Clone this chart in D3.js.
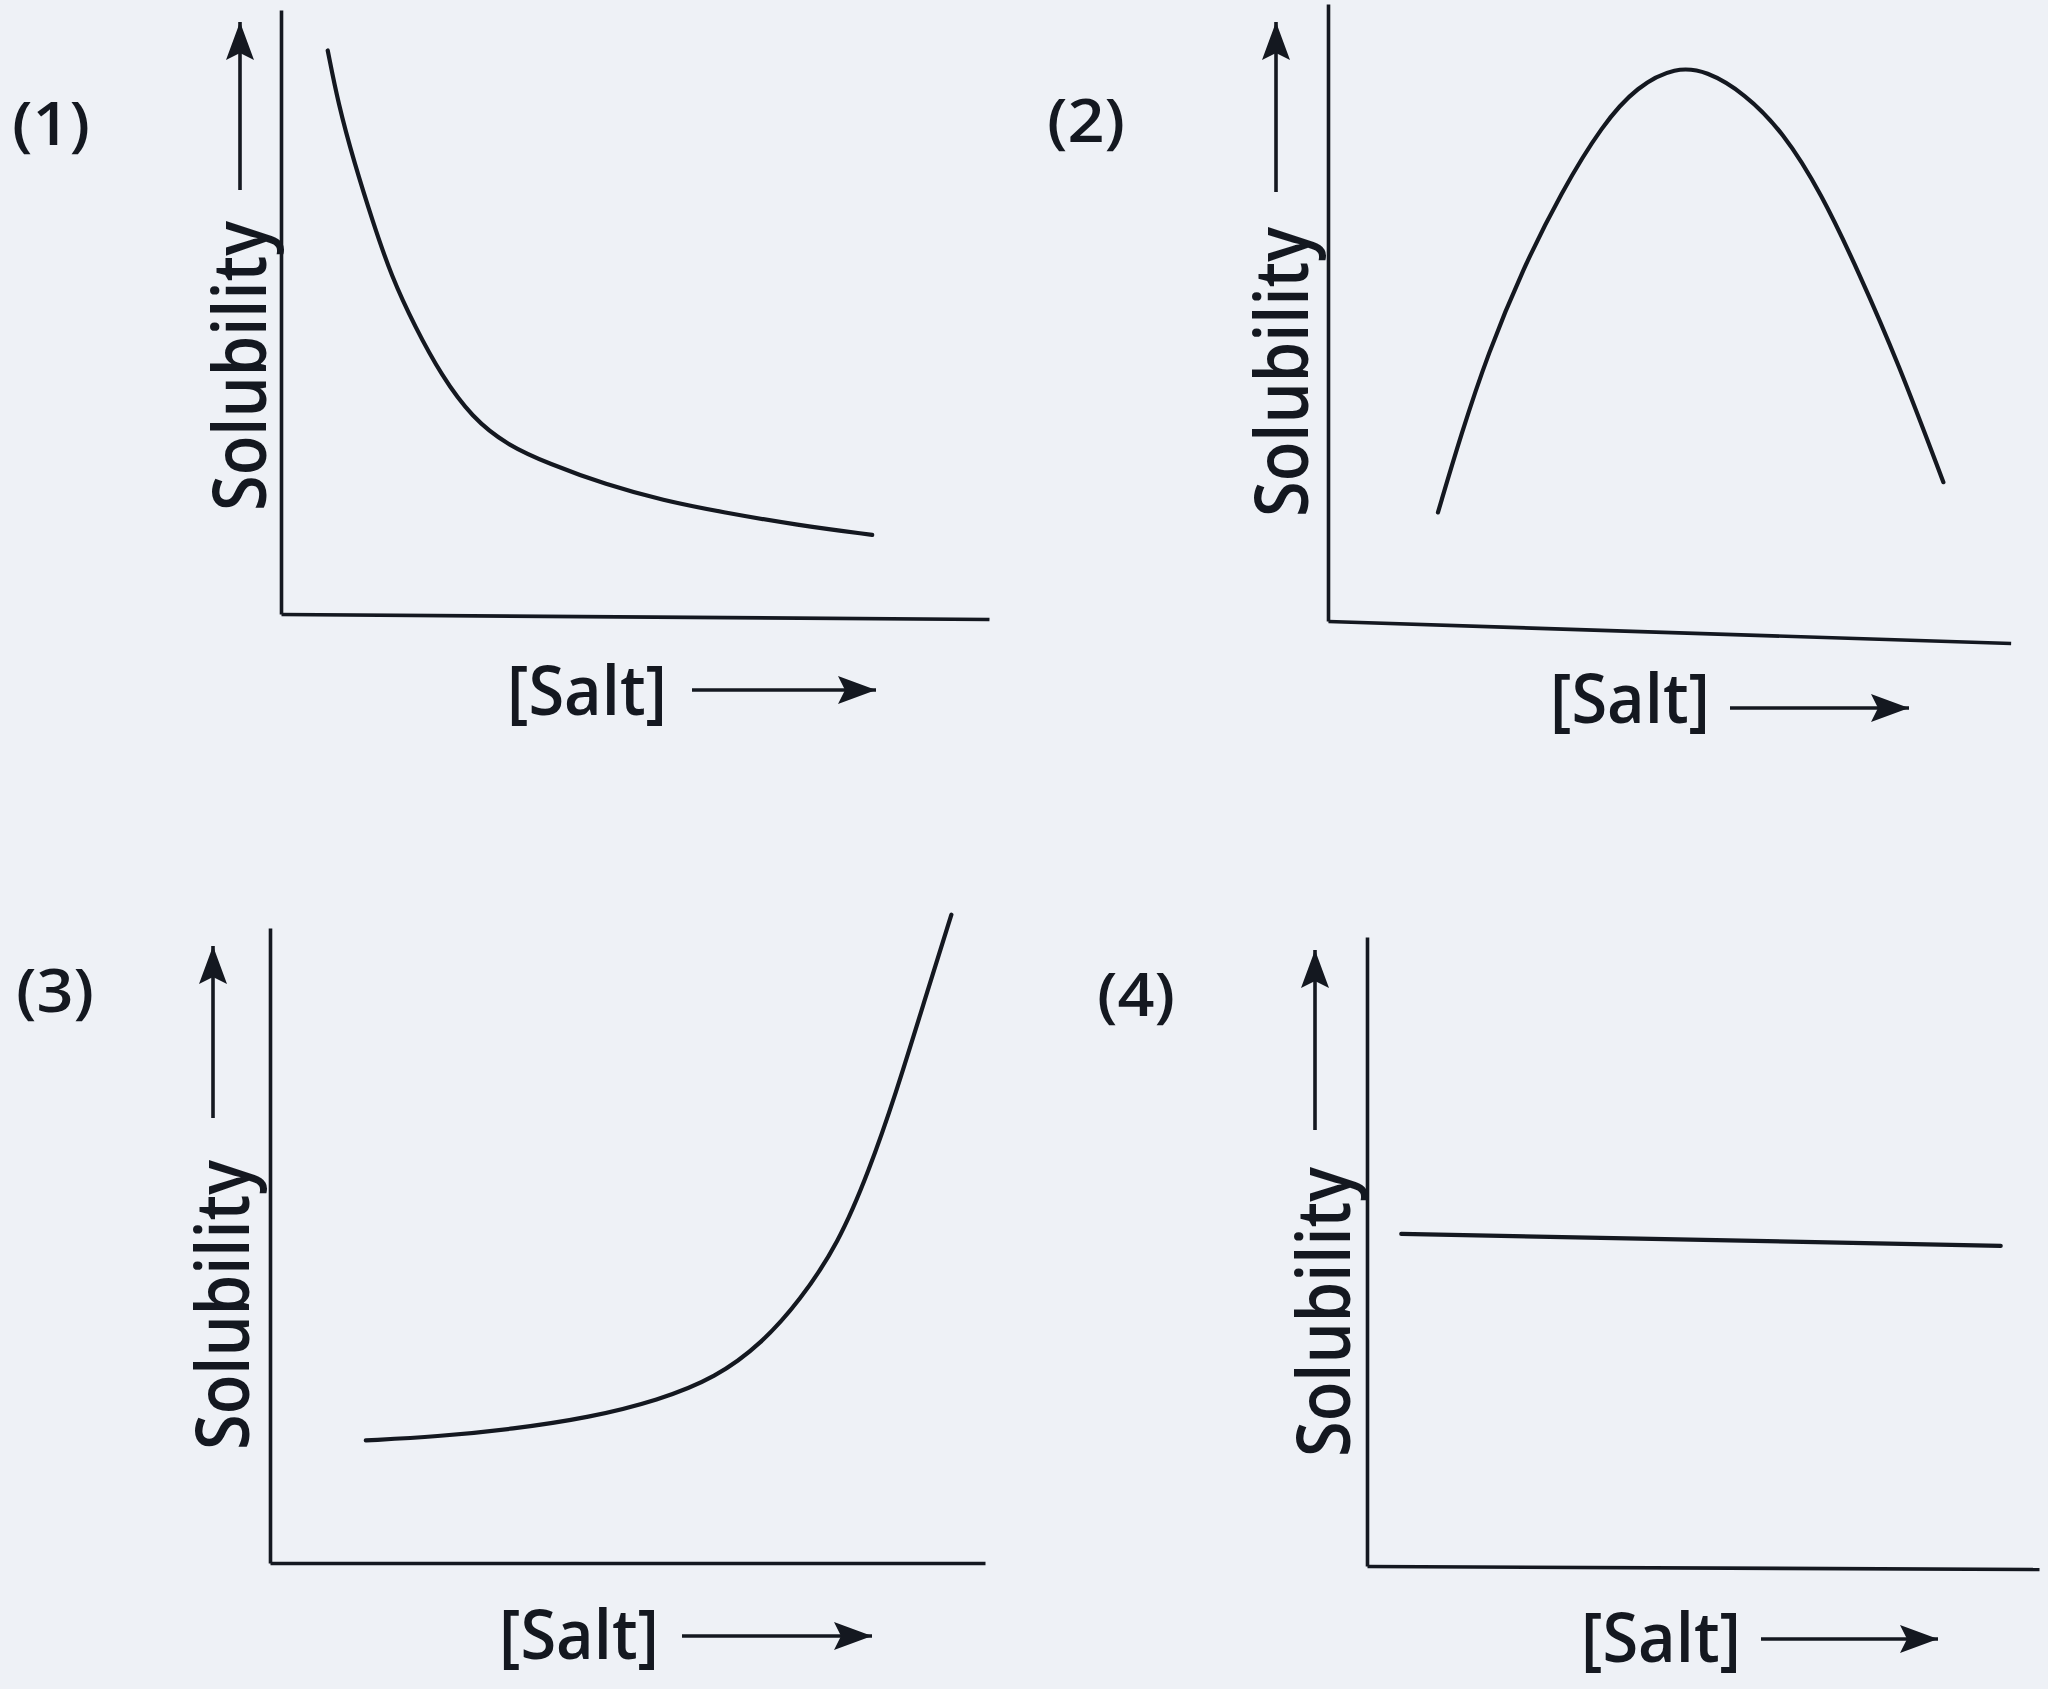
<!DOCTYPE html>
<html>
<head>
<meta charset="utf-8">
<script src="https://cdn.jsdelivr.net/npm/d3@7"></script>
<style>
  html, body { margin: 0; padding: 0; background: #eef1f6; }
  svg { display: block; }
  .lbl { font-family: "Open Sans", "DejaVu Sans", sans-serif; fill: #141820; font-weight: 600; }
</style>
</head>
<body>
<script>
// four sketch graphs: solubility vs salt concentration (arbitrary units 0-10)
const panelLabels = ["(1)", "(2)", "(3)", "(4)"];
const xTitle = "[Salt]";
const yTitle = "Solubility";

// (1) salting out - falls steeply then levels
const salt1 = [0.66, 0.81, 1.03, 1.30, 1.56, 1.89, 2.27, 2.70, 3.19, 3.78, 4.59, 5.40, 6.21, 7.30, 8.35];
const sol1  = [9.33, 8.44, 7.49, 6.48, 5.59, 4.76, 3.94, 3.25, 2.80, 2.49, 2.14, 1.88, 1.69, 1.47, 1.31];

// (2) salting in then salting out
const salt2 = [1.61, 1.95, 2.34, 2.85, 3.41, 4.02, 4.53, 5.09, 5.54, 6.10, 6.66, 7.22, 7.78, 8.34, 9.01];
const sol2  = [1.76, 3.03, 4.33, 5.70, 6.94, 8.05, 8.67, 8.98, 8.92, 8.55, 7.93, 6.94, 5.63, 4.21, 2.25];

// (3) rising
const salt3 = [1.34, 2.33, 3.40, 4.47, 5.43, 6.24, 6.88, 7.41, 7.95, 8.38, 8.75, 9.13, 9.53];
const sol3  = [1.93, 1.99, 2.11, 2.29, 2.56, 2.92, 3.46, 4.13, 5.03, 6.18, 7.38, 8.77, 10.21];

// (4) flat
const salt4 = [0.51, 9.43];
const sol4  = [5.28, 5.09];

const saltSeries = [salt1, salt2, salt3, salt4];
const solSeries = [sol1, sol2, sol3, sol4];

// layout of each panel (pixels)
const panels = [
  {x0: 281,  x1: 989,  y0: 614,  y1: 10,  tilt: 0.4,
   lab: [12, 145],   yt: [266, 366],   xt: [587, 715],   xa: [692, 876, 690],   ya: [240, 190, 22]},
  {x0: 1328, x1: 2011, y0: 621,  y1: 4,   tilt: 1.85,
   lab: [1047, 142], yt: [1308, 372],  xt: [1630, 723],  xa: [1730, 1909, 708], ya: [1276, 192, 22]},
  {x0: 270,  x1: 985,  y0: 1563, y1: 928, tilt: 0,
   lab: [16, 1012],  yt: [249, 1305],  xt: [579, 1659],  xa: [682, 872, 1636],  ya: [213, 1118, 946]},
  {x0: 1367, x1: 2039, y0: 1566, y1: 937, tilt: 0.26,
   lab: [1097, 1016], yt: [1350, 1312], xt: [1661, 1662], xa: [1761, 1938, 1639], ya: [1315, 1130, 950]}
];

const W = 2048, H = 1689;
const ink = "#141820";

const svg = d3.select("body").append("svg")
  .attr("width", W)
  .attr("height", H);

svg.append("rect").attr("width", W).attr("height", H).attr("fill", "#eef1f6");

svg.append("defs").append("marker")
  .attr("id", "head")
  .attr("viewBox", "-40 -16 42 32")
  .attr("refX", 0).attr("refY", 0)
  .attr("markerWidth", 42).attr("markerHeight", 32)
  .attr("markerUnits", "userSpaceOnUse")
  .attr("orient", "auto")
  .append("path")
  .attr("d", "M0,0 L-38,-14 L-31,0 L-38,14 Z")
  .attr("fill", ink);

panels.forEach((p, i) => {
  const g = svg.append("g");

  const x = d3.scaleLinear().domain([0, 10]).range([p.x0, p.x1]);
  const y = d3.scaleLinear().domain([0, 10]).range([p.y0, p.y1]);

  // axes without ticks
  g.append("g")
    .attr("transform", `translate(0,${p.y0}) rotate(${p.tilt},${p.x0},0)`)
    .call(d3.axisBottom(x).tickValues([]).tickSizeOuter(0));
  g.append("g")
    .attr("transform", `translate(${p.x0},0)`)
    .call(d3.axisLeft(y).tickValues([]).tickSizeOuter(0));
  g.selectAll(".domain").attr("stroke", ink).attr("stroke-width", 3.6);

  // curve
  const pts = saltSeries[i].map((s, k) => [s, solSeries[i][k]]);
  const line = d3.line()
    .x(d => x(d[0]))
    .y(d => y(d[1]))
    .curve(d3.curveBasis);
  g.append("path")
    .datum(pts)
    .attr("d", line)
    .attr("fill", "none")
    .attr("stroke", ink)
    .attr("stroke-width", 4.2)
    .attr("stroke-linecap", "round");

  // direction arrows
  g.append("line")
    .attr("x1", p.xa[0]).attr("x2", p.xa[1])
    .attr("y1", p.xa[2]).attr("y2", p.xa[2])
    .attr("stroke", ink).attr("stroke-width", 3.6)
    .attr("marker-end", "url(#head)");
  g.append("line")
    .attr("x1", p.ya[0]).attr("x2", p.ya[0])
    .attr("y1", p.ya[1]).attr("y2", p.ya[2])
    .attr("stroke", ink).attr("stroke-width", 3.6)
    .attr("marker-end", "url(#head)");

  // texts
  g.append("text").attr("class", "lbl")
    .attr("x", p.lab[0]).attr("y", p.lab[1])
    .attr("font-size", 60)
    .attr("textLength", 78).attr("lengthAdjust", "spacingAndGlyphs")
    .text(panelLabels[i]);

  g.append("text").attr("class", "lbl")
    .attr("transform", `translate(${p.yt[0]},${p.yt[1]}) rotate(-90)`)
    .attr("text-anchor", "middle")
    .attr("font-size", 74)
    .attr("textLength", 290).attr("lengthAdjust", "spacingAndGlyphs")
    .text(yTitle);

  g.append("text").attr("class", "lbl")
    .attr("x", p.xt[0]).attr("y", p.xt[1])
    .attr("text-anchor", "middle")
    .attr("font-size", 68)
    .attr("textLength", 160).attr("lengthAdjust", "spacingAndGlyphs")
    .text(xTitle);
});
</script>
</body>
</html>
